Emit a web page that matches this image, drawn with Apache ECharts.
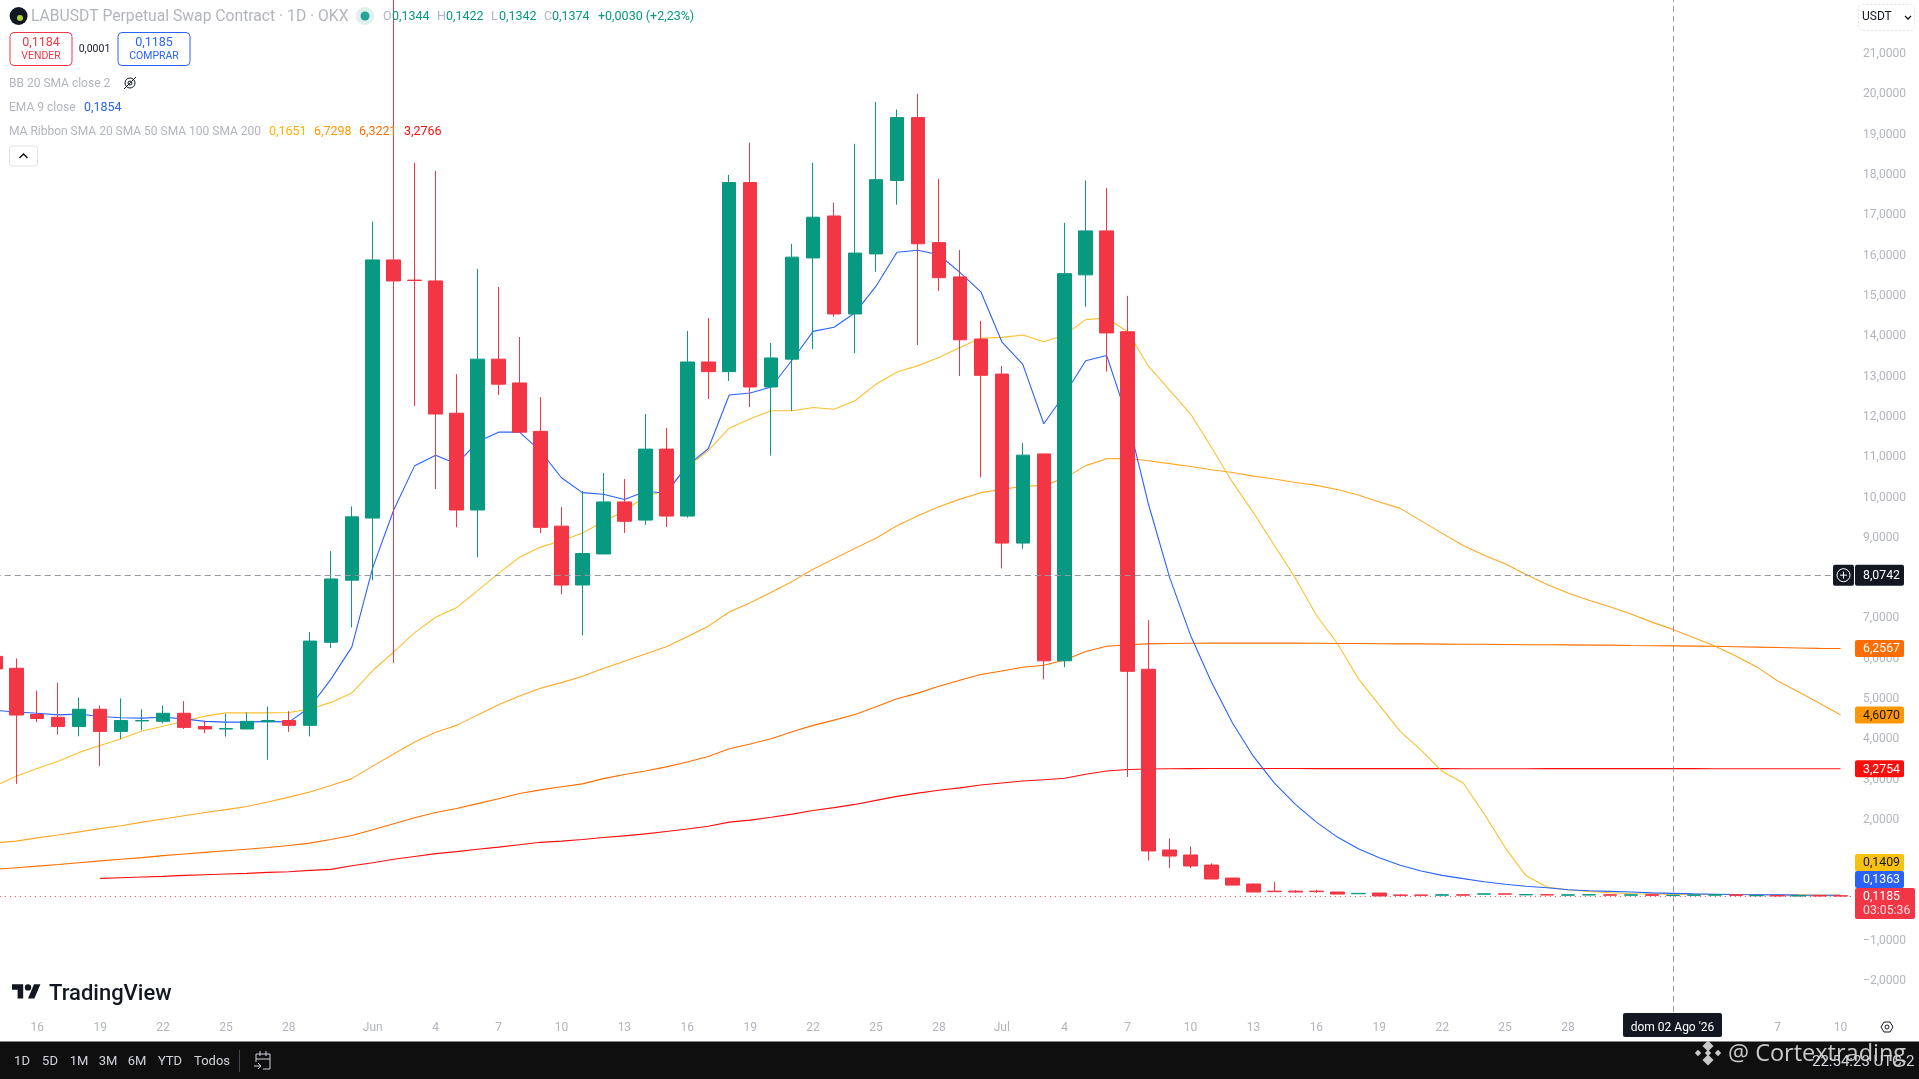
<!DOCTYPE html>
<html>
<head>
<meta charset="utf-8">
<style>html,body{margin:0;padding:0;background:#fff;overflow:hidden}#c{width:1919px;height:1079px}</style>
<script src="https://cdn.jsdelivr.net/npm/echarts@6/dist/echarts.min.js"></script>
</head>
<body>
<div id="c"></div>
<script>
const dates = ['May 14','May 15','May 16','May 17','May 18','May 19','May 20','May 21','May 22','May 23','May 24','May 25','May 26','May 27','May 28','May 29','May 30','May 31',
'Jun 1','Jun 2','Jun 3','Jun 4','Jun 5','Jun 6','Jun 7','Jun 8','Jun 9','Jun 10','Jun 11','Jun 12','Jun 13','Jun 14','Jun 15','Jun 16','Jun 17','Jun 18','Jun 19','Jun 20','Jun 21','Jun 22','Jun 23','Jun 24','Jun 25','Jun 26','Jun 27','Jun 28','Jun 29','Jun 30',
'Jul 1','Jul 2','Jul 3','Jul 4','Jul 5','Jul 6','Jul 7','Jul 8','Jul 9','Jul 10','Jul 11','Jul 12','Jul 13','Jul 14','Jul 15','Jul 16','Jul 17','Jul 18','Jul 19','Jul 20','Jul 21','Jul 22','Jul 23','Jul 24','Jul 25','Jul 26','Jul 27','Jul 28','Jul 29','Jul 30','Jul 31',
'Ago 1','Ago 2','Ago 3','Ago 4','Ago 5','Ago 6','Ago 7','Ago 8','Ago 9','Ago 10'];
const openValues = [6.06,5.765,4.62,4.55,4.32,4.75,4.20,4.46,4.45,4.65,4.32,4.26,4.26,4.44,4.47,4.35,6.41,7.95,
9.49,15.89,15.39,15.37,12.09,9.69,13.43,12.84,11.64,9.29,7.83,8.60,9.89,9.44,11.20,9.54,13.36,13.12,17.81,12.74,13.43,15.94,16.98,14.55,16.04,17.86,19.42,16.32,15.47,13.93,
13.06,8.87,11.08,5.95,15.52,16.61,14.11,5.74,1.26,1.136,.887,.565,.416,.24,.24,.24,.218,.175,.193,.145,.145,.14,.15,.165,.172,.148,.152,.14,.145,.15,.14,
.152,.1344,.137,.14,.15,.125,.13,.12,.128,.125];
const closeValues = [5.75,4.606,4.52,4.32,4.75,4.20,4.47,4.47,4.65,4.30,4.26,4.27,4.45,4.47,4.35,6.44,7.98,9.52,
15.89,15.37,15.38,12.07,9.69,13.43,12.81,11.62,9.26,7.83,8.61,9.89,9.41,11.20,9.54,13.36,13.12,17.81,12.74,13.46,15.96,16.95,14.55,16.06,17.88,19.42,16.29,15.45,13.91,13.03,
8.87,11.05,5.95,15.55,16.61,14.08,5.69,1.235,1.11,.863,.54,.39,.218,.226,.218,.226,.168,.185,.12,.135,.135,.15,.14,.172,.165,.155,.145,.148,.152,.14,.148,
.135,.1374,.145,.15,.135,.13,.12,.128,.12,.1185];
const lowValues = [5.7,2.90,4.43,4.12,4.08,3.34,4.01,4.23,4.40,4.26,4.16,4.07,4.26,3.50,4.19,4.08,6.27,6.78,
7.95,5.89,12.27,10.21,9.26,8.52,12.54,11.62,9.12,7.60,6.58,8.60,9.12,9.32,9.27,9.50,12.44,12.89,12.24,11.04,12.15,13.68,14.48,13.58,15.60,17.26,13.78,15.12,13.01,10.50,
8.24,8.73,5.49,5.79,14.73,13.12,3.07,1.00,.81,.81,.54,.39,.218,.22,.20,.20,.168,.175,.12,.13,.13,.135,.13,.165,.165,.14,.14,.135,.14,.135,.135,
.13,.1342,.135,.135,.13,.12,.115,.115,.115,.115];
const highValues = [6.1,6.01,5.21,5.41,5.04,4.84,5.02,4.75,4.84,4.95,4.46,4.64,4.67,4.82,4.70,6.66,8.67,9.78,
16.84,23,18.30,18.10,13.06,15.67,15.22,13.98,12.49,9.76,10.16,10.61,10.46,12.07,11.72,14.13,14.45,18.0,18.80,13.83,16.29,18.30,17.31,18.77,19.81,19.62,20.01,17.90,16.14,14.38,
13.26,11.35,11.08,16.81,17.86,17.67,15.0,6.96,1.55,1.35,.93,.565,.43,.466,.267,.276,.218,.185,.193,.16,.145,.175,.165,.172,.172,.165,.165,.15,.16,.16,.15,
.16,.1422,.15,.155,.155,.135,.135,.135,.13,.13];
const ema9 = [4.72,4.68,4.65,4.61,4.63,4.57,4.54,4.53,4.55,4.51,4.45,4.43,4.43,4.45,4.43,4.80,5.49,6.29,
8.26,9.69,10.79,11.05,10.83,11.38,11.62,11.62,11.15,10.49,10.12,10.08,9.95,10.15,10.11,10.79,11.21,12.54,12.59,12.74,13.41,14.12,14.22,14.58,15.24,16.08,16.13,16.02,15.58,15.10,
13.86,13.30,11.83,12.56,13.39,13.52,11.95,9.82,8.02,6.58,5.42,4.41,3.58,2.92,2.39,1.95,1.58,1.29,1.07,.88,.74,.63,.55,.474,.41,.36,.325,.276,.25,.235,.218,
.197,.1854,.172,.163,.156,.150,.146,.142,.139,.1363];
const sma20 = [2.85,3.09,3.28,3.46,3.68,3.85,4.02,4.21,4.33,4.45,4.58,4.66,4.66,4.66,4.67,4.75,4.92,5.15,
5.71,6.17,6.65,7.03,7.27,7.69,8.12,8.52,8.77,8.93,9.12,9.40,9.67,10.02,10.18,10.76,11.16,11.72,11.95,12.15,12.15,12.23,12.19,12.40,12.81,13.11,13.27,13.47,13.72,13.95,
13.97,14.03,13.86,14.03,14.41,14.45,14.11,13.25,12.66,12.07,11.24,10.38,9.62,8.81,8.0,7.08,6.38,5.51,4.85,4.20,3.73,3.21,2.92,2.16,1.32,.62,.34,.276,.235,.20,.176,
.17,.1651,.162,.158,.155,.152,.149,.147,.144,.1409];
const sma50 = [1.44,1.48,1.56,1.63,1.71,1.79,1.86,1.95,2.03,2.11,2.19,2.26,2.34,2.45,2.57,2.70,2.86,3.03,
3.34,3.64,3.94,4.18,4.35,4.61,4.86,5.08,5.27,5.41,5.57,5.76,5.94,6.12,6.30,6.55,6.81,7.16,7.39,7.65,7.92,8.22,8.48,8.74,8.99,9.30,9.55,9.77,9.96,10.12,
10.20,10.28,10.30,10.48,10.79,10.96,10.97,10.91,10.84,10.77,10.69,10.62,10.53,10.46,10.37,10.30,10.20,10.06,9.89,9.73,9.42,9.11,8.81,8.57,8.36,8.09,7.84,7.63,7.45,7.29,7.11,
6.91,6.7298,6.52,6.32,6.07,5.80,5.45,5.18,4.90,4.607];
const sma100 = [.78,.82,.86,.90,.945,.99,1.03,1.07,1.12,1.16,1.20,1.24,1.28,1.32,1.37,1.43,1.52,1.62,
1.76,1.91,2.06,2.19,2.29,2.41,2.53,2.66,2.75,2.83,2.90,3.03,3.13,3.22,3.32,3.44,3.58,3.77,3.89,4.02,4.19,4.35,4.48,4.62,4.81,5.01,5.15,5.32,5.47,5.61,
5.70,5.79,5.84,5.97,6.18,6.31,6.35,6.37,6.38,6.385,6.39,6.39,6.39,6.39,6.39,6.385,6.38,6.38,6.375,6.37,6.37,6.365,6.36,6.36,6.355,6.35,6.35,6.345,6.34,6.34,6.33,
6.325,6.3221,6.315,6.31,6.30,6.29,6.28,6.27,6.26,6.2567];
const sma200 = [null,null,null,null,null,.557,.573,.59,.606,.63,.647,.664,.68,.705,.72,.755,.78,.87,
.945,1.03,1.10,1.17,1.22,1.28,1.33,1.39,1.45,1.48,1.52,1.57,1.61,1.66,1.72,1.78,1.85,1.95,2.00,2.07,2.15,2.24,2.31,2.39,2.49,2.59,2.67,2.74,2.80,2.87,
2.92,2.97,3.00,3.04,3.14,3.22,3.255,3.27,3.275,3.278,3.28,3.28,3.28,3.279,3.279,3.278,3.278,3.278,3.277,3.277,3.277,3.277,3.276,3.276,3.276,3.276,3.2765,3.2768,3.2766,3.2766,3.2766,
3.2768,3.2766,3.2765,3.276,3.276,3.2758,3.2757,3.2756,3.2755,3.2754];
const xTicks = {'May 16':'16','May 19':'19','May 22':'22','May 25':'25','May 28':'28','Jun 1':'Jun','Jun 4':'4','Jun 7':'7','Jun 10':'10','Jun 13':'13','Jun 16':'16','Jun 19':'19','Jun 22':'22','Jun 25':'25','Jun 28':'28','Jul 1':'Jul','Jul 4':'4','Jul 7':'7','Jul 10':'10','Jul 13':'13','Jul 16':'16','Jul 19':'19','Jul 22':'22','Jul 25':'25','Jul 28':'28','Ago 7':'7','Ago 10':'10'};
const yTicks = {21:'21,0000',20:'20,0000',19:'19,0000',18:'18,0000',17:'17,0000',16:'16,0000',15:'15,0000',14:'14,0000',13:'13,0000',12:'12,0000',11:'11,0000',10:'10,0000',9:'9,0000',8:'8,0000',7:'7,0000',6:'6,0000',5:'5,0000',4:'4,0000',3:'3,0000',2:'2,0000',1:'1,0000',0:'0,0000','-1':'\u22121,0000','-2':'\u22122,0000'};
const crossPrice = 8.0742, crossDate = 'Ago 2', lastPrice = 0.1185;

const FONT = 'Roboto, "Liberation Sans", sans-serif';
const GREEN = '#089981', RED = '#f23645', BLUE = '#2962ff', YELLOW = '#fbc02d', ORANGE = '#ffa726', DEEP = '#ff6d00', PURE = '#ff0d0d', GRAY = '#b2b5be';

const chart = echarts.init(document.getElementById('c'), null, {width: 1919, height: 1079});
const candleData = dates.map((d, i) => [openValues[i], closeValues[i], lowValues[i], highValues[i]]);
const lineSeries = (name, data, color) => ({name, type: 'line', data, symbol: 'none', showSymbol: false, z: 2, silent: true, lineStyle: {color, width: 1.1}, connectNulls: false, animation: false});

chart.setOption({
  animation: false,
  backgroundColor: '#ffffff',
  grid: {left: -15.2, top: -26.8, width: 1866.3, height: 1048.6, containLabel: false, outerBoundsMode: 'none'},
  xAxis: {
    type: 'category', data: dates, boundaryGap: true,
    axisLine: {show: false}, axisTick: {show: false}, splitLine: {show: false},
    axisLabel: {
      margin: 0, color: GRAY, fontSize: 12, fontFamily: FONT, hideOverlap: false,
      interval: (i, v) => xTicks[v] !== undefined,
      formatter: v => xTicks[v] || ''
    }
  },
  yAxis: {
    type: 'value', position: 'right', min: -3, max: 23, interval: 1, scale: false,
    axisLine: {show: false}, axisTick: {show: false}, splitLine: {show: false},
    axisLabel: {margin: 12, color: GRAY, fontSize: 12, fontFamily: FONT, align: 'left', formatter: v => yTicks[v] || ''}
  },
  series: [
    lineSeries('SMA 200', sma200, PURE),
    lineSeries('SMA 100', sma100, DEEP),
    lineSeries('SMA 50', sma50, ORANGE),
    lineSeries('SMA 20', sma20, YELLOW),
    lineSeries('EMA 9', ema9, BLUE),
    {
      name: 'LABUSDT', type: 'candlestick', data: candleData, barWidth: 14, z: 3, silent: true, clip: true,
      itemStyle: {color: GREEN, color0: RED, borderColor: GREEN, borderColor0: RED, borderWidth: 1},
      markLine: {
        silent: true, symbol: 'none', z: 5, animation: false,
        label: {show: false},
        data: [
          {yAxis: crossPrice, lineStyle: {color: '#9598a1', type: [6, 4], width: 1}},
          {xAxis: crossDate, lineStyle: {color: '#9598a1', type: [6, 4], width: 1}},
          {yAxis: lastPrice, lineStyle: {color: RED, type: [1, 4], width: 1}}
        ]
      }
    }
  ]
});

const els = [];
function T(x, y, text, fill, size, opts) {
  opts = opts || {};
  els.push({type: 'text', x, y, z: 100, silent: true, style: {text, fill, fontSize: size, fontFamily: opts.font || FONT, fontWeight: opts.weight || 'normal', align: opts.align || 'left', verticalAlign: 'middle'}});
}
function R(x, y, w, h, fill, stroke, r, dash) {
  els.push({type: 'rect', z: 99, silent: true, shape: {x, y, width: w, height: h, r: r || 0}, style: {fill: fill || 'none', stroke: stroke || 'none', lineWidth: 1, lineDash: dash}});
}
function L(pts, stroke, w) {
  els.push({type: 'polyline', z: 100, silent: true, shape: {points: pts}, style: {fill: 'none', stroke, lineWidth: w || 1}});
}
function P(pts, fill) {
  els.push({type: 'polygon', z: 100, silent: true, shape: {points: pts}, style: {fill}});
}
function C(cx, cy, r, fill, stroke) {
  els.push({type: 'circle', z: 100, silent: true, shape: {cx, cy, r}, style: {fill: fill || 'none', stroke: stroke || 'none', lineWidth: 1}});
}
const yOf = v => chart.convertToPixel({yAxisIndex: 0}, v);

// header
C(18.6, 16, 9, '#131722');
C(20, 18, 3, '#a5d633');
T(31, 17, 'LABUSDT Perpetual Swap Contract \u00b7 1D \u00b7 OKX', GRAY, 15.7);
C(365, 16, 9, '#dff0ee');
C(365, 16, 4.5, '#26a69a');
[['O',383],['H',437],['L',491],['C',544]].forEach(a => T(a[1], 17, a[0], GRAY, 12.5));
[['0,1344',392],['0,1422',446],['0,1342',499],['0,1374',552]].forEach(a => T(a[1], 17, a[0], GREEN, 12.5));
T(598, 17, '+0,0030 (+2,23%)', GREEN, 12.5);

R(10, 32.5, 62, 33, '#fff', RED, 4);
T(41, 42.5, '0,1184', RED, 12.5, {align: 'center'});
T(41, 56, 'VENDER', RED, 10.5, {align: 'center'});
T(94.5, 49, '0,0001', '#131722', 10.5, {align: 'center'});
R(118, 32.5, 72, 33, '#fff', BLUE, 4);
T(154, 42.5, '0,1185', BLUE, 12.5, {align: 'center'});
T(154, 56, 'COMPRAR', BLUE, 10.5, {align: 'center'});

T(9, 83.5, 'BB 20 SMA close 2', GRAY, 12);
C(130, 83, 5, null, '#131722');
C(130, 83, 2, null, '#131722');
L([[124, 89], [136, 77]], '#131722', 1);
T(9, 107.5, 'EMA 9 close', GRAY, 12);
T(84, 107.5, '0,1854', BLUE, 12.5);
T(9, 131.5, 'MA Ribbon SMA 20 SMA 50 SMA 100 SMA 200', GRAY, 12);
T(269, 131.5, '0,1651', '#ffb300', 12.5);
T(314, 131.5, '6,7298', '#ff9800', 12.5);
T(359, 131.5, '6,3221', DEEP, 12.5);
T(404, 131.5, '3,2766', PURE, 12.5);
R(9.5, 146, 28, 20, '#fff', '#e0e3eb', 3);
L([[19.5, 158], [23.5, 154], [27.5, 158]], '#131722', 1.5);

// currency box
R(1858.5, 4.5, 56, 26, '#fff', '#e0e3eb', 4, [2, 2]);
T(1862, 17, 'USDT', '#131722', 12);
L([[1905, 16], [1908, 19], [1911, 16]], '#131722', 1.3);

// price tags
function tag(value, text, bg, fg, w, nudge) {
  const cy = yOf(value) + (nudge || 0);
  R(1855, cy - 8.5, w || 49, 17, bg, null, 2);
  T(1863, cy + 0.8, text, fg, 12.3);
}
tag(6.2567, '6,2567', DEEP, '#fff');
tag(4.6070, '4,6070', '#ff9800', '#131722');
tag(3.2754, '3,2754', PURE, '#fff');
tag(0.1409, '0,1409', '#f9c20e', '#131722', 49, -32.7);
tag(0.1363, '0,1363', BLUE, '#fff', 49, -15.8);
const lastY = yOf(lastPrice);
R(1855, lastY - 8, 60, 31, RED, null, 2);
T(1863, lastY + 0.8, '0,1185', '#fff', 12.3);
T(1863, lastY + 14.5, '03:05:36', '#ffd9dd', 12.3);

// crosshair tags
const crossY = yOf(crossPrice);
R(1833, crossY - 10.5, 21, 21, '#131722', null, 2);
C(1843.5, crossY, 6.5, null, '#fff');
L([[1843.5, crossY - 3.5], [1843.5, crossY + 3.5]], '#fff', 1);
L([[1840, crossY], [1847, crossY]], '#fff', 1);
R(1855, crossY - 10.5, 49, 21, '#131722', null, 2);
T(1863, crossY + 0.5, '8,0742', '#fff', 12.3);
R(1623, 1013, 99, 24, '#131722', null, 2);
T(1672.5, 1028, "dom 02 Ago '26", '#fff', 12, {align: 'center'});

// gear
P([[1881, 1027], [1884, 1022], [1890, 1022], [1893, 1027], [1890, 1032], [1884, 1032]], '#fff');
L([[1881, 1027], [1884, 1022], [1890, 1022], [1893, 1027], [1890, 1032], [1884, 1032], [1881, 1027]], '#131722', 1);
C(1887, 1027, 2, null, '#131722');

// TradingView logo
const lx = 12, ly = 981, ls = 0.8;
const lp = p => p.map(q => [lx + q[0] * ls, ly + q[1] * ls]);
P(lp([[0, 4], [14, 4], [14, 22], [7, 22], [7, 11], [0, 11]]), '#131722');
P(lp([[27.5, 4], [35.5, 4], [28, 22], [20, 22]]), '#131722');
C(lx + 20 * ls, ly + 8 * ls, 3.2, '#131722');
T(49, 994, 'TradingView', '#131722', 22, {weight: 500});

// bottom bar
R(0, 1041.5, 1919, 38, '#0f0f0f');
[['1D', 22], ['5D', 50], ['1M', 79], ['3M', 108], ['6M', 137], ['YTD', 170], ['Todos', 212]].forEach(a => T(a[1], 1061.5, a[0], '#d1d4dc', 13, {align: 'center'}));
L([[239.5, 1050], [239.5, 1072]], '#434651', 1);
L([[256, 1054], [270, 1054], [270, 1069], [263, 1069]], '#d1d4dc', 1);
L([[256, 1062], [256, 1054]], '#d1d4dc', 1);
L([[256, 1059], [270, 1059]], '#d1d4dc', 1);
L([[260, 1051], [260, 1056]], '#d1d4dc', 1);
L([[266, 1051], [266, 1056]], '#d1d4dc', 1);
L([[254, 1066], [261, 1066]], '#d1d4dc', 1);
L([[258, 1063], [261, 1066], [258, 1069]], '#d1d4dc', 1);

// watermark
const dia = (cx, cy, r) => P([[cx, cy - r], [cx + r, cy], [cx, cy + r], [cx - r, cy]], '#c9c9c9');
dia(1708, 1046, 5.5); dia(1708, 1060, 5.5); dia(1698, 1053, 3.2); dia(1718, 1053, 3.2); dia(1708, 1053, 3.2);
T(1728, 1054, '@ Cortextrading', '#c9c9c9', 23.5, {font: '"Open Sans", Roboto, sans-serif'});
T(1812, 1062, '22:54:23 UTC-2', '#d1d4dc', 15);

chart.setOption({graphic: {elements: els}});
</script>
</body>
</html>
